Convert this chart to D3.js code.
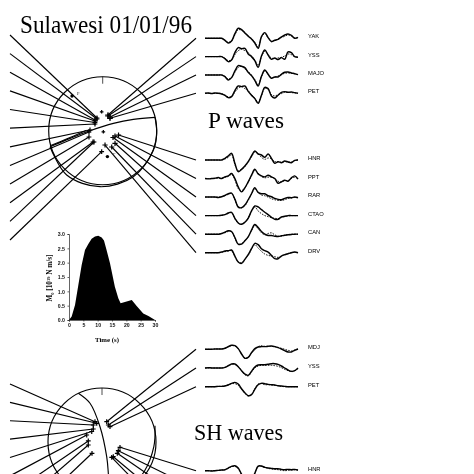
<!DOCTYPE html>
<html><head><meta charset="utf-8">
<script src="https://cdnjs.cloudflare.com/ajax/libs/d3/7.8.5/d3.min.js"></script>
<style>html,body{margin:0;padding:0;background:#fff}svg{display:block}</style>
</head><body><svg id="c" width="474" height="474"></svg>
<script>
// ---------- data ----------
const sampleIndex = d3.range(29);
const pStationsTop = ["YAK","YSS","MAJO","PET"];
const pStationsBottom = ["HNR","PPT","RAR","CTAO","CAN","DRV"];
const shStationsTop = ["MDJ","YSS","PET"];
const shStationsBottom = ["HNR"];

const pObs = {
 YAK:[0,0,0,0,0,0,-6,-14,-8,14,30,26,16,6,-2,-14,-30,5,17,2,-10,-6,-3,4,10,13,9,0,3],
 YSS:[0,0,0,0,0,0,-6,-15,-10,12,27,24,25,8,0,-12,-32,2,20,5,-8,-4,-9,-3,-8,14,12,0,-2],
 MAJO:[0,0,0,0,0,0,-5,-15,-8,12,28,26,22,8,-2,-16,-33,-4,15,2,-10,-6,-6,2,8,9,6,4,1],
 PET:[0,1,-1,1,0,-2,-6,-13,-10,8,22,20,22,6,-6,-16,-30,-6,18,14,-8,-14,-6,3,5,3,4,2,0],
 HNR:[0,0,0,0,0,0,5,12,20,-10,-35,-28,-18,-5,12,27,18,15,8,18,5,-10,-5,-8,-3,-6,-8,-1,0],
 PPT:[0,-1,0,1,3,0,5,8,15,0,-25,-40,-28,-10,10,28,14,8,5,10,5,0,-14,-10,-5,-8,2,8,-2],
 RAR:[0,0,0,0,-1,1,5,10,12,-6,-30,-32,-24,-8,10,28,14,10,10,4,1,-4,-7,-8,-4,-1,-2,0,-2],
 CTAO:[0,0,0,0,0,1,3,8,10,-8,-22,-26,-20,-8,14,29,26,18,10,3,-5,-11,-11,-4,-2,0,0,0,0],
 CAN:[0,0,0,0,0,2,6,10,8,-10,-30,-30,-20,-8,12,29,20,8,0,-4,-4,-6,-7,-5,-3,-2,-1,0,0],
 DRV:[0,0,0,0,0,2,5,6,8,-10,-28,-32,-20,-6,12,28,24,12,6,2,-8,-18,-18,-10,-6,-3,0,2,0]
};
const pSyn = {
 YAK:[0,0,0,0,0,0,-5,-12,-8,10,26,24,18,8,0,-12,-26,4,14,2,-8,-6,-2,2,6,10,7,1,2],
 YSS:[0,0,0,0,0,0,-5,-12,-10,6,18,22,18,12,2,-10,-26,0,16,6,-4,-6,-4,-2,2,8,6,0,0],
 MAJO:[0,0,0,0,0,0,-4,-12,-8,8,22,26,18,10,0,-14,-30,-4,12,2,-8,-6,-3,1,5,6,5,3,1],
 PET:[0,0,0,0,0,-1,-5,-11,-10,4,15,20,14,8,-4,-14,-27,-6,15,12,-4,-8,-4,-1,3,3,2,1,0],
 HNR:[0,0,0,0,0,0,3,8,16,-14,-32,-28,-20,-7,10,24,20,8,2,6,4,-5,-5,-7,-5,-6,-6,-2,0],
 PPT:[0,0,0,0,1,1,4,6,12,-4,-30,-36,-28,-12,8,24,16,6,2,4,4,0,-8,-10,-6,-6,0,4,0],
 RAR:[0,0,0,0,0,1,4,8,11,-8,-28,-32,-26,-10,8,25,14,6,4,0,-5,-8,-10,-10,-8,-4,-3,-1,-1],
 CTAO:[0,0,0,0,0,1,3,6,9,-10,-22,-26,-20,-6,12,26,14,6,0,-3,-6,-8,-9,-6,-3,-1,0,0,0],
 CAN:[0,0,0,0,0,1,4,8,7,-12,-30,-28,-20,-8,10,26,16,4,-2,2,4,-2,-6,-6,-3,-1,0,0,0],
 DRV:[0,0,0,0,0,1,3,5,6,-12,-28,-30,-20,-8,10,24,14,4,-4,-8,-10,-12,-14,-10,-6,-2,0,1,0]
};
const shObs = {
 MDJ:[0,0,0,1,1,1,3,8,12,11,2,-14,-27,-24,-10,2,7,8,8,9,10,8,5,1,-4,-8,-8,-3,1],
 YSS:[0,1,0,0,0,0,2,7,12,12,4,-8,-18,-22,-10,3,9,10,10,11,13,13,11,6,0,-6,-10,-8,0],
 PET:[0,0,0,0,1,1,2,5,10,13,8,-6,-18,-27,-24,-8,6,10,9,7,6,5,3,2,1,0,0,0,0],
 HNR:[0,0,-1,0,1,2,3,8,13,15,8,-10,-24,-34,-28,-8,14,14,10,8,7,6,6,4,3,4,3,4,2]
};
const shSyn = {
 MDJ:[0,0,0,1,1,1,3,7,11,10,2,-14,-26,-24,-12,-2,8,11,9,9,9,8,6,3,0,-3,-5,-2,1],
 YSS:[0,0,0,0,0,0,2,6,11,11,4,-8,-20,-24,-12,0,6,8,8,8,8,7,5,1,-4,-8,-11,-9,-2],
 PET:[0,0,0,0,1,1,3,6,9,9,4,-8,-20,-28,-24,-6,8,10,6,6,5,4,3,1,0,0,0,0,0],
 HNR:[0,0,0,0,1,2,3,7,12,13,6,-12,-26,-34,-26,-6,12,13,10,7,5,4,3,1,0,1,2,2,1]
};

// source time function
const stfTime = [0,.93,2.1,3.26,4.42,5.58,6.74,7.9,9.07,10.2,11.4,12.2,13.1,14.3,16,17.2,18,21.9,23.6,25.9,27.7,30];
const stfMoment = [0,.12,.52,1.22,1.92,2.44,2.65,2.83,2.91,2.94,2.88,2.77,2.44,1.98,1.16,.76,.58,.7,.49,.23,.14,0];
const stfYTicks = [0,0.5,1,1.5,2,2.5,3];
const stfXTicks = [0,5,10,15,20,25,30];

// focal spheres: unit-circle coordinates, [u, v]
const pLeftPierce = [[-.106,.235],[-.106,.217],[-.143,.198],[-.143,.18],[-.143,.152],[-.143,.124],[-.235,.013],[-.254,-.024],[-.254,-.117],[-.18,-.209],[-.161,-.209],[-.019,-.389]];
const pTopPierce = [[.098,.291],[.098,.272],[.135,.254],[.135,.23]];
const pBottomPierce = [[.293,-.08],[.228,-.098],[.191,-.126],[.228,-.233],[.167,-.302],[.043,-.265]];
const pExtraCross = [[-.019,.35],[.012,-.02]];
const pAxes = [{p:[-.568,.642],label:"P"},{p:[.087,-.48],label:"T"}];
const pPlaneA = [[.969,.247],[.568,.21],[.198,.136],[-.235,0],[-.605,-.142],[-.975,-.296]];
const pPlaneA2 = [[-.975,-.28],[-.605,-.125],[-.3,.01]];
const pPlaneB = [[.969,.247],[1.0,-.05],[.938,-.358],[.568,-.852],[-.049,-1.037],[-.667,-.821],[-.975,-.296]];

const shLeftPierce = [[-.13,.376],[-.098,.346],[-.161,.315],[-.161,.241],[-.19,.194],[-.283,.13],[-.254,.019],[-.254,-.056],[-.185,-.209]];
const shTopPierce = [[.087,.376],[.117,.315],[.148,.283]];
const shBottomPierce = [[.333,-.098],[.302,-.161],[.283,-.209],[.209,-.272],[.18,-.283]];
const shPlaneA = [[-.438,.902],[-.222,.717],[-.037,.283],[.087,-.272],[.117,-.58],[.13,-.89]];
const shPlaneB = [[.981,.3],[.96,-.087],[.78,-.55],[.5,-.85]];

// ---------- drawing ----------
const svg = d3.select("#c");
const defs = svg.append("defs");
defs.append("filter").attr("id","soft").append("feGaussianBlur").attr("stdDeviation",0.3);
const root = svg.append("g").attr("filter","url(#soft)");
const ink = "#000";

const serif = "'Liberation Serif',serif";
function bigText(t,x,y,size,len){
  root.append("text").attr("x",x).attr("y",y).attr("font-family",serif).attr("font-size",size)
   .attr("fill",ink).attr("textLength",len).attr("lengthAdjust","spacingAndGlyphs").text(t);
}
bigText("Sulawesi 01/01/96",20,33,25,172);
bigText("P waves",208,128,23,76);
bigText("SH waves",194,440,23,89);

// waveforms
const xT = d3.scaleLinear().domain([0,28]).range([205,298]);
const amp = d3.scaleLinear().domain([-60,60]).range([20,-20]);
const waveLine = d3.line().x((d,i)=>xT(i)).y(d=>amp(d)).curve(d3.curveCatmullRom.alpha(.5));
function wavePanel(names,rowY,obs,syn){
  names.forEach((n,i)=>{
    const g = root.append("g").attr("transform",`translate(0,${rowY(i)})`);
    g.append("path").attr("d",waveLine(syn[n])).attr("fill","none").attr("stroke",ink).attr("stroke-width",.9).attr("stroke-dasharray","1.6 1.2");
    g.append("path").attr("d",waveLine(obs[n])).attr("fill","none").attr("stroke",ink).attr("stroke-width",1.45);
    g.append("text").attr("x",308).attr("y",0).attr("font-family","'Liberation Sans',sans-serif").attr("font-size",5.8).attr("fill","#000").text(n);
  });
}
const pTopRow = d3.scaleLinear().domain([0,3]).range([38.3,93.3]);
const pBotRow = d3.scaleLinear().domain([0,5]).range([160,252.7]);
const shTopRow = d3.scaleLinear().domain([0,2]).range([349.3,386.7]);
const shBotRow = d3.scaleLinear().domain([0,4]).range([470.7,544.3]);
wavePanel(pStationsTop,pTopRow,pObs,pSyn);
wavePanel(pStationsBottom,pBotRow,pObs,pSyn);
wavePanel(shStationsTop,shTopRow,shObs,shSyn);
wavePanel(shStationsBottom,shBotRow,shObs,shSyn);

// focal spheres
function sphere(cx,cy,R){
  const sx = d3.scaleLinear().domain([-1,1]).range([cx-R,cx+R]);
  const sy = d3.scaleLinear().domain([-1,1]).range([cy+R,cy-R]);
  const g = root.append("g").attr("fill","none").attr("stroke",ink).attr("stroke-width",1.15);
  g.append("circle").attr("cx",sx(0)).attr("cy",sy(0)).attr("r",sx(1)-sx(0));
  g.append("line").attr("x1",sx(0)).attr("x2",sx(0)).attr("y1",sy(1)).attr("y2",sy(.87)).attr("stroke-width",.7);
  const curve = d3.line().x(d=>sx(d[0])).y(d=>sy(d[1])).curve(d3.curveCatmullRom.alpha(.5));
  const ray = (pts,outerX,rowY)=>pts.forEach((p,i)=>{
    g.append("line").attr("x1",outerX).attr("y1",rowY(i)).attr("x2",sx(p[0])).attr("y2",sy(p[1]));
  });
  const cross = (pts,s)=>pts.forEach(p=>{
    g.append("path").attr("transform",`translate(${sx(p[0])},${sy(p[1])})`).attr("d",`M${-s},0H${s}M0,${-s}V${s}`).attr("stroke-width",1.2);
  });
  return {sx,sy,g,curve,ray,cross};
}
const P = sphere(102.7,130.7,54);
P.ray(pLeftPierce,10,d3.scaleLinear().domain([0,11]).range([35,240]));
P.ray(pTopPierce,196,pTopRow);
P.ray(pBottomPierce,196,pBotRow);
P.cross(pLeftPierce,2.4); P.cross(pTopPierce,2.8); P.cross(pBottomPierce,2.6); P.cross(pExtraCross,1.8);
[pPlaneA,pPlaneA2,pPlaneB].forEach(c=>P.g.append("path").attr("d",P.curve(c)));
pAxes.forEach(a=>{
  P.g.append("circle").attr("cx",P.sx(a.p[0])).attr("cy",P.sy(a.p[1])).attr("r",1.7).attr("fill",ink).attr("stroke","none");
  P.g.append("text").attr("x",P.sx(a.p[0])+5).attr("y",P.sy(a.p[1])-1).attr("font-size",4.5).attr("font-family",serif).attr("fill","#333").attr("stroke","none").text(a.label);
});

const S = sphere(102,442,54);
S.ray(shLeftPierce,10,d3.scaleLinear().domain([0,8]).range([384,531]));
S.ray(shTopPierce,196,shTopRow);
S.ray(shBottomPierce,196,shBotRow);
S.cross(shLeftPierce,2.4); S.cross(shTopPierce,2.4); S.cross(shBottomPierce,2.4);
[shPlaneA,shPlaneB].forEach(c=>S.g.append("path").attr("d",S.curve(c)));

// source time function inset
const x = d3.scaleLinear().domain([0,30]).range([69,155]);
const y = d3.scaleLinear().domain([0,3]).range([320,234]);
root.append("path").attr("d",d3.area().x((d,i)=>x(stfTime[i])).y0(y(0)).y1(d=>y(d))(stfMoment)).attr("fill","#000");
const fmt = d3.format(".1f");
const ax = root.append("g").attr("transform",`translate(69,0)`).call(d3.axisLeft(y).tickValues(stfYTicks).tickFormat(fmt).tickSize(1.5).tickPadding(2.5));
const bx = root.append("g").attr("transform",`translate(0,320)`).call(d3.axisBottom(x).tickValues(stfXTicks).tickSize(1.5).tickPadding(1.5));
[ax,bx].forEach(a=>{a.selectAll("text").attr("font-family","'Liberation Sans',sans-serif").attr("font-size",5.2).attr("font-weight","bold").attr("fill","#111");
  a.selectAll("path,line").attr("stroke","#222").attr("stroke-width",.7);});
root.append("text").attr("x",107).attr("y",342).attr("text-anchor","middle").attr("font-family",serif).attr("font-weight","bold").attr("font-size",6.8).attr("fill",ink).text("Time (s)");
const yl = root.append("text").attr("transform","translate(52,278) rotate(-90)").attr("text-anchor","middle").attr("font-family",serif).attr("font-weight","bold").attr("font-size",7.2).attr("fill",ink);
yl.append("tspan").text("M");
yl.append("tspan").attr("font-size",4.6).attr("dy",1.5).text("0");
yl.append("tspan").attr("dy",-1.5).text(" [10");
yl.append("tspan").attr("font-size",4.6).attr("dy",-2).text("19");
yl.append("tspan").attr("dy",2).text(" N m/s]");
</script></body></html>
